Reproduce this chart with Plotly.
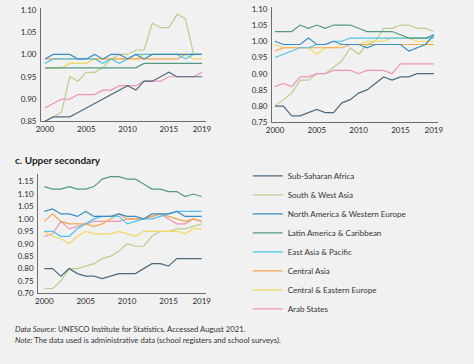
import plotly.graph_objects as go

years = list(range(2000, 2020))
regions = ["Sub-Saharan Africa", "South & West Asia", "North America & Western Europe",
           "Latin America & Caribbean", "East Asia & Pacific", "Central Asia",
           "Central & Eastern Europe", "Arab States"]
colors = ["#4d6b80", "#b8d08c", "#3a8cc4", "#529a82", "#4fc3e6", "#f4a64e", "#f3d95c", "#ef94b4"]

# Panel a
a_ssa = [0.85, 0.86, 0.86, 0.86, 0.87, 0.88, 0.89, 0.90, 0.91, 0.92, 0.93, 0.92, 0.94, 0.94, 0.95, 0.96, 0.95, 0.95, 0.95, 0.95]
a_swa = [0.85, 0.86, 0.87, 0.95, 0.94, 0.96, 0.96, 0.97, 0.99, 1.00, 1.00, 1.01, 1.01, 1.07, 1.06, 1.06, 1.09, 1.08, 1.00, 1.00]
a_nawe = [0.99, 1.00, 1.00, 1.00, 0.99, 0.99, 1.00, 0.99, 1.00, 1.00, 0.99, 1.00, 0.99, 1.00, 1.00, 1.00, 1.00, 1.00, 1.00, 1.00]
a_lac = [0.97, 0.97, 0.97, 0.97, 0.97, 0.97, 0.97, 0.97, 0.97, 0.97, 0.97, 0.97, 0.98, 0.98, 0.98, 0.98, 0.98, 0.98, 0.98, 0.98]
a_eap = [0.98, 0.99, 0.99, 0.99, 0.99, 0.99, 0.99, 0.98, 0.99, 0.98, 0.99, 1.00, 1.00, 1.00, 1.00, 1.00, 1.00, 0.99, 1.00, 1.00]
a_ca = [0.99, 0.99, 0.99, 0.99, 0.99, 0.99, 0.99, 0.99, 0.99, 0.99, 0.99, 0.99, 0.99, 0.99, 0.99, 0.99, 0.99, 1.00, 1.00, 1.00]
a_cee = [0.97, 0.97, 0.97, 0.98, 0.98, 0.98, 0.99, 0.99, 0.99, 0.99, 0.99, 0.99, 1.00, 1.00, 1.00, 1.00, 1.00, 1.00, 0.99, 0.99]
a_arab = [0.88, 0.89, 0.90, 0.90, 0.91, 0.91, 0.91, 0.92, 0.92, 0.93, 0.93, 0.93, 0.94, 0.94, 0.94, 0.95, 0.95, 0.95, 0.95, 0.96]

# Panel b
b_ssa = [0.80, 0.80, 0.77, 0.77, 0.78, 0.79, 0.78, 0.78, 0.81, 0.82, 0.84, 0.85, 0.87, 0.89, 0.88, 0.89, 0.89, 0.90, 0.90, 0.90]
b_swa = [0.80, 0.82, 0.84, 0.88, 0.88, 0.90, 0.90, 0.92, 0.94, 0.98, 0.96, 0.99, 1.00, 1.04, 1.04, 1.05, 1.05, 1.04, 1.04, 1.03]
b_nawe = [1.00, 0.99, 0.99, 0.99, 1.01, 0.99, 0.99, 1.00, 0.99, 0.99, 0.99, 0.98, 0.99, 0.99, 0.99, 0.99, 0.97, 0.98, 0.99, 1.02]
b_lac = [1.03, 1.03, 1.03, 1.05, 1.04, 1.05, 1.04, 1.05, 1.05, 1.05, 1.04, 1.03, 1.03, 1.03, 1.03, 1.02, 1.01, 1.01, 1.01, 1.02]
b_eap = [0.95, 0.96, 0.97, 0.98, 0.98, 0.99, 0.99, 1.00, 1.00, 1.01, 1.01, 1.01, 1.01, 1.01, 1.01, 1.01, 1.01, 1.01, 1.01, 1.01]
b_ca = [0.97, 0.98, 0.98, 0.98, 0.98, 0.98, 0.98, 0.98, 0.98, 0.99, 0.99, 0.99, 0.99, 0.99, 0.99, 0.99, 0.99, 0.99, 0.99, 0.99]
b_cee = [0.99, 0.98, 0.98, 0.98, 0.98, 0.96, 0.98, 0.98, 0.99, 0.99, 0.99, 1.00, 1.00, 1.00, 1.01, 1.01, 1.01, 1.00, 1.00, 1.00]
b_arab = [0.86, 0.87, 0.86, 0.89, 0.89, 0.90, 0.90, 0.91, 0.91, 0.91, 0.90, 0.91, 0.91, 0.91, 0.90, 0.93, 0.93, 0.93, 0.93, 0.93]

# Panel c (Upper secondary)
c_ssa = [0.80, 0.80, 0.77, 0.80, 0.78, 0.77, 0.77, 0.76, 0.77, 0.78, 0.78, 0.78, 0.80, 0.82, 0.82, 0.81, 0.84, 0.84, 0.84, 0.84]
c_swa = [0.72, 0.72, 0.75, 0.80, 0.80, 0.81, 0.82, 0.84, 0.85, 0.87, 0.90, 0.89, 0.89, 0.93, 0.95, 0.95, 0.96, 0.96, 0.97, 0.98]
c_nawe = [1.03, 1.04, 1.02, 1.02, 1.01, 1.03, 1.01, 1.01, 1.01, 1.02, 1.01, 1.01, 1.00, 1.02, 1.02, 1.02, 1.03, 1.01, 1.01, 1.01]
c_lac = [1.13, 1.12, 1.12, 1.13, 1.12, 1.12, 1.13, 1.16, 1.17, 1.17, 1.16, 1.16, 1.14, 1.12, 1.12, 1.11, 1.11, 1.09, 1.10, 1.09]
c_eap = [0.95, 0.95, 0.93, 0.93, 0.96, 0.98, 1.00, 1.01, 1.01, 1.01, 0.98, 0.99, 1.00, 1.00, 1.01, 1.02, 1.03, 1.03, 1.03, 1.03]
c_ca = [0.99, 1.02, 0.99, 0.98, 0.98, 0.98, 0.97, 0.98, 1.00, 1.02, 1.00, 1.00, 1.00, 1.01, 1.02, 1.01, 1.00, 0.99, 1.00, 0.99]
c_cee = [0.95, 0.93, 0.92, 0.90, 0.93, 0.95, 0.94, 0.94, 0.94, 0.95, 0.94, 0.93, 0.95, 0.95, 0.95, 0.95, 0.95, 0.94, 0.96, 0.96]
c_arab = [0.93, 0.94, 0.99, 0.96, 0.97, 0.98, 0.99, 0.99, 0.99, 0.99, 1.00, 1.00, 1.00, 1.01, 1.02, 1.00, 0.98, 0.98, 1.00, 0.99]

panel_a = [a_ssa, a_swa, a_nawe, a_lac, a_eap, a_ca, a_cee, a_arab]
panel_b = [b_ssa, b_swa, b_nawe, b_lac, b_eap, b_ca, b_cee, b_arab]
panel_c = [c_ssa, c_swa, c_nawe, c_lac, c_eap, c_ca, c_cee, c_arab]

x_ticks = [2000, 2005, 2010, 2015, 2019]
a_yticks = [0.85, 0.90, 0.95, 1.00, 1.05, 1.10]
b_yticks = [0.75, 0.80, 0.85, 0.90, 0.95, 1.00, 1.05, 1.10]
c_yticks = [0.70, 0.75, 0.80, 0.85, 0.90, 0.95, 1.00, 1.05, 1.10, 1.15]

title_c = "c. Upper secondary"
note_source = "<i>Data Source:</i> UNESCO Institute for Statistics. Accessed August 2021."
note_text = "<i>Note:</i> The data used is administrative data (school registers and school surveys)."

W, H = 474, 364
FONT = "Lato"
bg = "#f1f1f2"

fig = go.Figure()
order = [1, 7, 6, 5, 4, 3, 2, 0]
for k, (panel, (xa, ya)) in enumerate(zip([panel_a, panel_b, panel_c],
                                          [("x", "y"), ("x2", "y2"), ("x3", "y3")])):
    for i in order:
        fig.add_trace(go.Scatter(
            x=years, y=panel[i], mode="lines", name=regions[i],
            line=dict(color=colors[i], width=1.2),
            xaxis=xa, yaxis=ya, showlegend=(k == 2), legendrank=i + 1,
            hoverinfo="skip"))

def px_x(p):
    return p / W

def px_y(p):
    return 1 - p / H

axis_common = dict(showgrid=False, zeroline=False, showline=True, linecolor="#6d6d6d",
                   linewidth=1, ticks="", tickfont=dict(family=FONT, size=8, color="#2a2a2a"),
                   fixedrange=True)
yaxis_extra = dict(ticklabelstandoff=2, tickformat=".2f")

fig.update_layout(
    width=W, height=H,
    margin=dict(l=0, r=0, t=0, b=0),
    paper_bgcolor=bg, plot_bgcolor=bg,
    font=dict(family=FONT, color="#333333"),
    xaxis=dict(domain=[px_x(36), px_x(205)], range=[1999.53, 2019.47], anchor="y",
               tickvals=x_ticks, **axis_common),
    yaxis=dict(domain=[px_y(121), px_y(5)], range=[0.85, 1.1044], anchor="x",
               tickvals=a_yticks, **yaxis_extra, **axis_common),
    xaxis2=dict(domain=[px_x(273), px_x(443)], range=[1999.65, 2019.47], anchor="y2",
                tickvals=x_ticks, **axis_common),
    yaxis2=dict(domain=[px_y(122), px_y(4)], range=[0.75, 1.106], anchor="x2",
                tickvals=b_yticks, **yaxis_extra, **axis_common),
    xaxis3=dict(domain=[px_x(33), px_x(205)], range=[1999.26, 2019.5], anchor="y3",
                tickvals=x_ticks, **axis_common),
    yaxis3=dict(domain=[px_y(297), px_y(175)], range=[0.70, 1.18], anchor="x3",
                tickvals=c_yticks, **yaxis_extra, **axis_common),
    legend=dict(x=px_x(248), y=px_y(162), xanchor="left", yanchor="top",
                bgcolor="rgba(0,0,0,0)", font=dict(family=FONT, size=8, color="#333333"),
                tracegroupgap=0, itemclick=False, itemdoubleclick=False),
    showlegend=True,
)

fig.add_annotation(text=f"<b>{title_c}</b>", xref="paper", yref="paper",
                   x=px_x(7), y=px_y(161), xanchor="left", yanchor="middle",
                   showarrow=False, font=dict(family=FONT, size=10, color="#222222"))
fig.add_annotation(text=note_source, xref="paper", yref="paper",
                   x=px_x(7), y=px_y(333), xanchor="left", yanchor="middle",
                   showarrow=False, font=dict(family=FONT, size=7.7, color="#333333"))
fig.add_annotation(text=note_text, xref="paper", yref="paper",
                   x=px_x(7), y=px_y(345), xanchor="left", yanchor="middle",
                   showarrow=False, font=dict(family=FONT, size=7.7, color="#333333"))

fig.write_html("out.html", config={"displayModeBar": False},
               post_script="document.body.style.margin='0';document.body.style.background='#f1f1f2';document.body.style.overflow='hidden';")
